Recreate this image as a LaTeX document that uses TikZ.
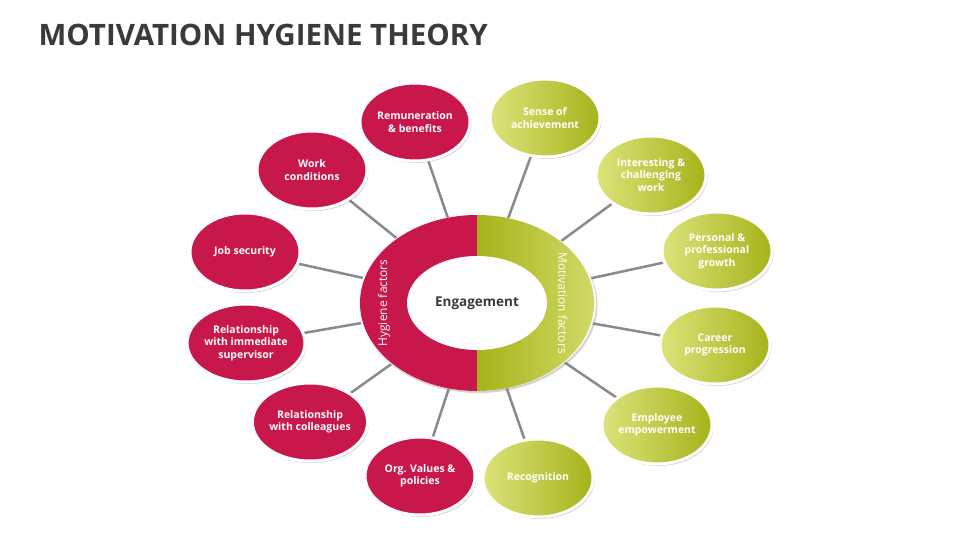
\documentclass[tikz,border=0pt]{standalone}
\usepackage{fontspec}
\setmainfont{Open Sans}
\usetikzlibrary{shadows,shapes.geometric}
\definecolor{crim}{HTML}{C8174A}
\definecolor{grnD}{HTML}{A6B31A}
\definecolor{grnL}{HTML}{DCE37A}
\definecolor{ttl}{HTML}{3A3A3A}
\definecolor{lnk}{HTML}{8A8A8A}
\begin{document}
\begin{tikzpicture}[x=1pt,y=-1pt,
  sat/.style={ellipse,minimum width=110pt,minimum height=78pt,draw=white,line width=3pt,
     drop shadow={shadow xshift=1.5pt,shadow yshift=-2pt,opacity=0.35},
     text=white,font=\bfseries\fontsize{10.5}{12.5}\selectfont,align=center,inner sep=0pt},
  hyg/.style={sat,fill=crim},
  mot/.style={sat,shade,shading angle=135,left color=grnL,right color=grnD},
  link/.style={draw=lnk,line width=2.5pt}]
\useasboundingbox (0,0) rectangle (960,540);
\node[anchor=west,font=\bfseries\fontsize{29.5}{34}\selectfont,text=ttl] (title) at (35,35) {MOTIVATION HYGIENE THEORY};
\coordinate (c) at (477,303);
\coordinate (ph1) at (415,122); \coordinate (ph2) at (312,170); \coordinate (ph3) at (245,252);
\coordinate (ph4) at (246,343); \coordinate (ph5) at (310,422); \coordinate (ph6) at (420,476);
\coordinate (pm1) at (545,118); \coordinate (pm2) at (651,175); \coordinate (pm3) at (717,251);
\coordinate (pm4) at (715,345); \coordinate (pm5) at (657,425); \coordinate (pm6) at (538,478);
\foreach \n in {ph1,ph2,ph3,ph4,ph5,ph6,pm1,pm2,pm3,pm4,pm5,pm6}{
  \path[link] (c) -- (\n);
}
\node[hyg] (h1) at (ph1) {Remuneration\\\& benefits};
\node[hyg] (h2) at (ph2) {Work\\conditions};
\node[hyg] (h3) at (ph3) {Job security};
\node[hyg] (h4) at (ph4) {Relationship\\with immediate\\supervisor};
\node[hyg] (h5) at (ph5) {Relationship\\with colleagues};
\node[hyg] (h6) at (ph6) {Org. Values \&\\policies};
\node[mot] (m1) at (pm1) {Sense of\\achievement};
\node[mot] (m2) at (pm2) {Interesting \&\\challenging\\work};
\node[mot] (m3) at (pm3) {Personal \&\\professional\\growth};
\node[mot] (m4) at (pm4) {Career\\progression};
\node[mot] (m5) at (pm5) {Employee\\empowerment};
\node[mot] (m6) at (pm6) {Recognition};
% central ring
\fill[white,drop shadow={shadow xshift=1.5pt,shadow yshift=-2pt,opacity=0.35}] (c) ellipse [x radius=119pt,y radius=88pt];
\fill[crim] (477,215) arc[start angle=-90,end angle=-270,x radius=117pt,y radius=-88pt] -- cycle;
\shade[left color=grnD,right color=grnL!80!grnD] (477,215) arc[start angle=-90,end angle=90,x radius=117pt,y radius=-88pt] -- cycle;
\node[ellipse,fill=white,minimum width=140pt,minimum height=94pt,font=\bfseries\fontsize{13.5}{16}\selectfont,text=ttl] (eng) at (c) {Engagement};
\node[rotate=90,text=white,font=\fontsize{12}{14}\selectfont] (hf) at (384,303) {Hygiene factors};
\node[rotate=-90,text=white,font=\fontsize{12}{14}\selectfont] (mf) at (563,303) {Motivation factors};
\end{tikzpicture}
\end{document}
